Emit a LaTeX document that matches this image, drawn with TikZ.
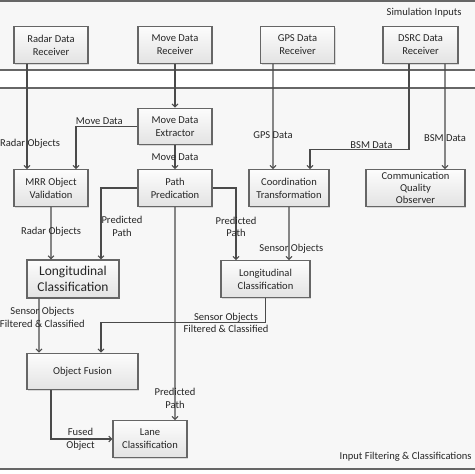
\documentclass[tikz,border=0pt]{standalone}
\usepackage{fontspec}
\setmainfont{Carlito}
\usetikzlibrary{arrows.meta,shadows}
\definecolor{edgegray}{HTML}{666666}
\definecolor{linegray}{HTML}{4A4A4A}
\definecolor{txtgray}{HTML}{262626}
\begin{document}
\begin{tikzpicture}[x=0.03cm,y=-0.03cm,
    panel/.style={draw=edgegray,line width=1pt,fill=gray!6},
    blk/.style={draw=edgegray,line width=1pt,top color=gray!2,bottom color=gray!22,
      drop shadow={shadow xshift=0.04cm,shadow yshift=-0.04cm,fill=gray!55},
      minimum width=2.22cm,minimum height=1.1cm,align=center,inner sep=1pt,
      font=\fontsize{9}{11}\selectfont,text=txtgray},
    lbl/.style={font=\fontsize{9}{11}\selectfont,text=txtgray,align=center,inner sep=1pt},
    arr/.style={color=linegray,line width=0.9pt,-{Straight Barb[length=2.5pt,width=5pt]}}]
      \useasboundingbox (0,0) rectangle (474,474);
      \draw[panel] (-2,1) rectangle (476,70);
      \draw[panel] (-2,88) rectangle (476,469);
      \node[lbl,anchor=east] (siminp) at (463,13) {Simulation Inputs};
      \node[lbl,anchor=east] (filtcls) at (473,457) {Input Filtering \& Classifications};
      \node[blk] (radarrx) at (51,45) {Radar Data\\Receiver};
      \node[blk] (moverx) at (175,45) {Move Data\\Receiver};
      \node[blk] (gpsrx) at (297.5,45) {GPS Data\\Receiver};
      \node[blk,minimum width=2.25cm] (dsrcrx) at (420.5,45) {DSRC Data\\Receiver};
      \node[blk] (extract) at (175,126.5) {Move Data\\Extractor};
      \node[blk] (mrrval) at (51,188) {MRR Object\\Validation};
      \node[blk] (pathpred) at (175,188) {Path\\Predication};
      \node[blk,minimum width=2.4cm] (coordtr) at (289,188) {Coordination\\Transformation};
      \node[blk,minimum width=2.97cm,font=\fontsize{9}{10.5}\selectfont] (commobs) at (415.5,188) {Communication\\Quality\\Observer};
      \node[blk,minimum width=2.76cm,minimum height=1.14cm,font=\fontsize{11.5}{14}\selectfont] (longcl1) at (73,279) {Longitudinal\\Classification};
      \node[blk,minimum width=2.67cm] (longcl2) at (265.5,279) {Longitudinal\\Classification};
      \node[blk,minimum width=3.33cm] (objfus) at (82.5,371.5) {Object Fusion};
      \node[blk] (lanecl) at (150,439) {Lane\\Classification};
      \begin{scope}[arr]
        \draw ([xshift=-.72cm]radarrx.south) -- ([xshift=-.72cm]mrrval.north)
          node[lbl,pos=.755,xshift=.09cm] {Radar Objects};
        \draw (moverx) -- (extract);
        \draw (extract.west) -| ([xshift=.75cm]mrrval.north)
          node[lbl,above,pos=.31] {Move Data};
        \draw (extract) -- (pathpred) node[lbl,midway] {Move Data};
        \draw (pathpred.west) -| ([xshift=.84cm]longcl1.north)
          node[lbl,right,pos=.77,inner sep=0pt] {Predicted\\Path};
        \draw (pathpred.east) -| ([xshift=-.885cm]longcl2.north)
          node[lbl,pos=.77] {Predicted\\Path};
        \draw (pathpred.south) -- ([xshift=.75cm]lanecl.north)
          node[lbl,pos=.9] {Predicted\\Path};
        \draw (mrrval.south) -- ([xshift=-.66cm]longcl1.north)
          node[lbl,pos=.47] {Radar Objects};
        \draw ([xshift=-.735cm]gpsrx.south) -- ([xshift=-.48cm]coordtr.north)
          node[lbl,pos=.68] {GPS Data};
        \draw ([xshift=-.345cm]dsrcrx.south) -- ++(0,86) -| ([xshift=.63cm]coordtr.north)
          node[lbl,above,pos=.19] {BSM Data};
        \draw ([xshift=.735cm]dsrcrx.south) -- ([xshift=.885cm]commobs.north)
          node[lbl,pos=.71] {BSM Data};
        \draw (coordtr.south) -- ([xshift=.705cm]longcl2.north)
          node[lbl,pos=.78,xshift=.07cm] {Sensor Objects};
        \draw ([xshift=-1.02cm]longcl1.south) -- ([xshift=-1.305cm]objfus.north)
          node[lbl,pos=.35,xshift=.1cm] {Sensor Objects\\Filtered \& Classified};
        \draw (longcl2.south) -- ++(0,25) -| ([xshift=.555cm]objfus.north)
          node[lbl,pos=.12] {Sensor Objects\\Filtered \& Classified};
        \draw ([xshift=-.945cm]objfus.south) |- (lanecl.west)
          node[lbl,pos=.74] {Fused\\Object};
      \end{scope}
    \end{tikzpicture}
\end{document}
